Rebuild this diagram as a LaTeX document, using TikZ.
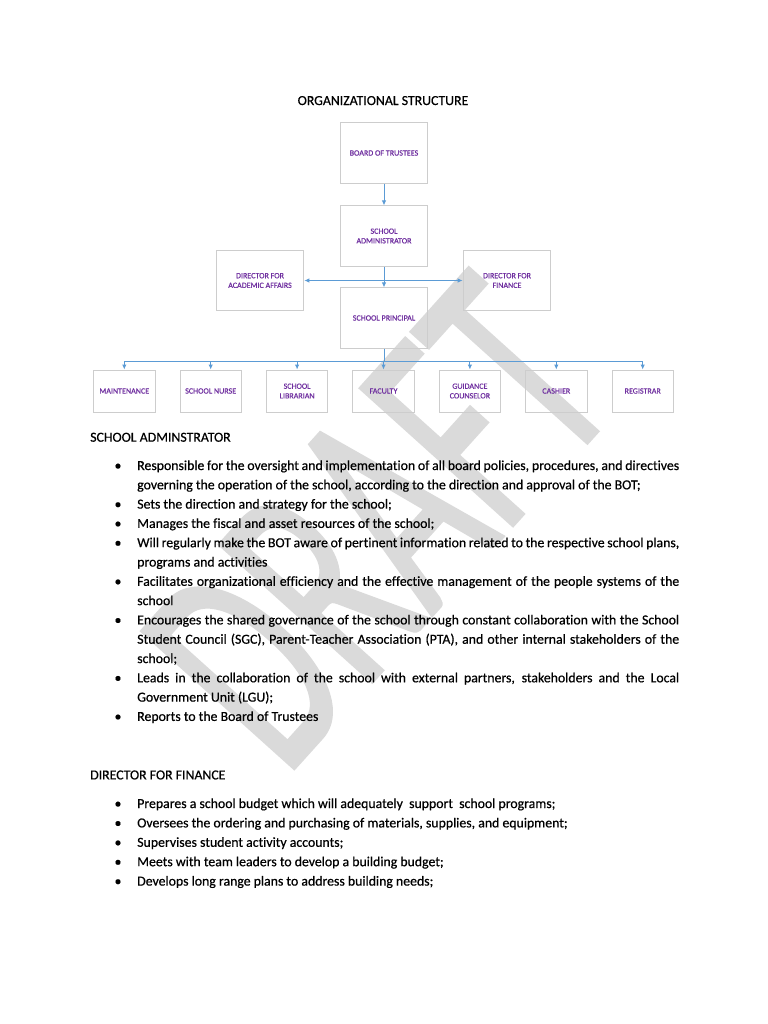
\documentclass[tikz,border=0pt]{standalone}
\usepackage{fontspec}
\setmainfont{Carlito}[FakeBold=0.5,Ligatures={TeX,NoCommon,NoContextual}]
\newfontfamily\wmfont{Carlito}[FakeBold=1,Ligatures=NoCommon]
\usepackage{graphicx}
\usetikzlibrary{arrows.meta}
\definecolor{linkblue}{RGB}{91,155,213}
\definecolor{boxtext}{RGB}{112,48,160}
\definecolor{boxline}{RGB}{205,205,205}
\definecolor{wmgray}{RGB}{218,218,218}

\begin{document}
\begin{tikzpicture}[x=0.797pt,y=-0.797pt,>={Latex[length=4pt,width=3.6pt]},
    chartbox/.style={draw=boxline,line width=0.7pt,text=boxtext,align=center,inner sep=0pt,
      font=\fontsize{6.4}{7.7}\selectfont},
    upbox/.style={chartbox,minimum width=70pt,minimum height=48pt},
    rowbox/.style={chartbox,minimum width=49pt,minimum height=33.5pt},
    conn/.style={draw=linkblue,line width=0.8pt},
    bodytext/.style={inner sep=0pt,font=\fontsize{11}{15.4}\selectfont},
    heading/.style={bodytext,anchor=base west},
    bulletmark/.style={bodytext,anchor=base},
    bullettext/.style={bodytext,anchor=base west,text width=432pt,align=justify}]
    \useasboundingbox [fill=white] (0,0) rectangle (768,1024);

    % Watermark
    \node (draft) [rotate=48,text=wmgray,inner sep=0pt] at (378,522)
      {\scalebox{1}[1.7]{\wmfont\fontsize{150}{150}\selectfont DRAFT}};

    % Chart
    \node (title) [bodytext,anchor=base] at (383,105) {ORGANIZATIONAL STRUCTURE};
    \node (bot) [upbox] at (384,153) {BOARD OF TRUSTEES};
    \node (admin) [upbox] at (384,236) {SCHOOL\\ADMINISTRATOR};
    \node (acad) [upbox] at (260,280.5) {DIRECTOR FOR\\ACADEMIC AFFAIRS};
    \node (fin) [upbox] at (507,280.5) {DIRECTOR FOR\\FINANCE};
    \node (prin) [upbox] at (384,318) {SCHOOL PRINCIPAL};
    \foreach \name/\label [count=\i] in {maint/MAINTENANCE,nurse/SCHOOL NURSE,lib/SCHOOL\\LIBRARIAN,
        fac/FACULTY,guide/GUIDANCE\\COUNSELOR,cash/CASHIER,reg/REGISTRAR}
      \node (\name) [rowbox] at ({124.3+86.4*(\i-1)},391) {\label};

    \coordinate (hub) at (384,280.5);
    \coordinate (bus) at (384,361);
    \draw [conn,->] (bot) -- (admin);
    \draw [conn,->] (admin) -- (prin);
    \draw [conn,->] (hub) -- (acad);
    \draw [conn,->] (hub) -- (fin);
    \draw [conn] (prin) -- (bus);
    \draw [conn] (maint.north |- bus) -- (reg.north |- bus);
    \foreach \name in {maint,nurse,lib,fac,guide,cash,reg}
      \draw [conn,->] (\name.north |- bus) -- (\name);

    % School administrator
    \node (sahead) [heading] at (90,441.7) {SCHOOL ADMINSTRATOR};
    \foreach \y [count=\k] in {470,508.6,527.9,547.2,585.8,624.4,682.3,720.9}
      \node (sadot\k) [bulletmark] at (118,\y) {•};
    \node (sa1) [bullettext] at (137,470) {Responsible for the oversight and implementation of all board policies, procedures, and directives\linebreak
      governing the operation of the school, according to the direction and approval of the BOT;};
    \node (sa2) [bullettext] at (137,508.6) {Sets the direction and strategy for the school;};
    \node (sa3) [bullettext] at (137,527.9) {Manages the fiscal and asset resources of the school;};
    \node (sa4) [bullettext] at (137,547.2) {Will regularly make the BOT aware of pertinent information related to the respective school plans,\linebreak
      programs and activities};
    \node (sa5) [bullettext] at (137,585.8) {Facilitates organizational efficiency and the effective management of the people systems of the\linebreak
      school};
    \node (sa6) [bullettext] at (137,624.4) {Encourages the shared governance of the school through constant collaboration with the School\linebreak
      Student Council (SGC), Parent-Teacher Association (PTA), and other internal stakeholders of the\linebreak
      school;};
    \node (sa7) [bullettext] at (137,682.3) {Leads in the collaboration of the school with external partners, stakeholders and the Local\linebreak
      Government Unit (LGU);};
    \node (sa8) [bullettext] at (137,720.9) {Reports to the Board of Trustees};

    % Director for finance
    \node (dfhead) [heading] at (90,779.4) {DIRECTOR FOR FINANCE};
    \foreach \y [count=\k] in {808,827.4,846.8,866.2,885.6}
      \node (dfdot\k) [bulletmark] at (118,\y) {•};
    \node (df1) [bullettext] at (137,808) {Prepares a school budget which will adequately\ \ support\ \ school programs;};
    \node (df2) [bullettext] at (137,827.4) {Oversees the ordering and purchasing of materials, supplies, and equipment;};
    \node (df3) [bullettext] at (137,846.8) {Supervises student activity accounts;};
    \node (df4) [bullettext] at (137,866.2) {Meets with team leaders to develop a building budget;};
    \node (df5) [bullettext] at (137,885.6) {Develops long range plans to address building needs;};
\end{tikzpicture}
\end{document}
